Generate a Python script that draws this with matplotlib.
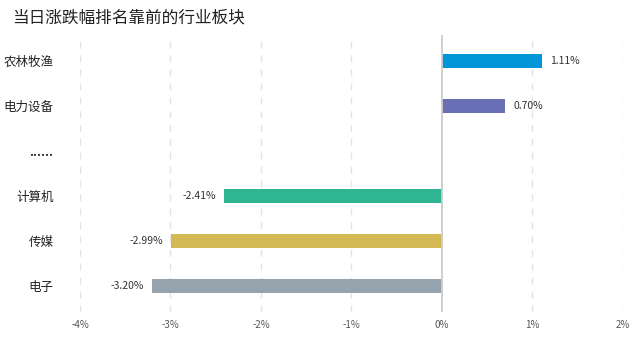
import numpy as np
import matplotlib.pyplot as plt

plt.rcParams['font.family'] = ['Noto Sans CJK SC', 'DejaVu Sans']

# data
sectors = ['农林牧渔', '电力设备', '......', '计算机', '传媒', '电子']
changes = [1.11, 0.70, np.nan, -2.41, -2.99, -3.20]
bar_colors = ['#0096d8', '#6a6fb5', '#ffffff', '#2fb593', '#d3b953', '#96a2ac']
xticks = [-4, -3, -2, -1, 0, 1, 2]

fig = plt.figure(figsize=(6.4, 3.46), dpi=100)
ax = fig.add_axes([0.125, 0.098, 0.848, 0.801])

y = np.arange(len(sectors))
vals = np.nan_to_num(changes)
ax.barh(y, vals, height=0.31, color=bar_colors, zorder=3)

for yi, v in zip(y, changes):
    if np.isnan(v):
        continue
    if v >= 0:
        ax.text(v + 0.09, yi, f'{v:.2f}%', va='center', ha='left', fontsize=7.5, color='#333333')
    else:
        ax.text(v - 0.09, yi, f'{v:.2f}%', va='center', ha='right', fontsize=7.5, color='#333333')

for xt in xticks:
    if xt == 0:
        ax.axvline(0, color='#cccccc', lw=1.3, zorder=4)
    else:
        ax.axvline(xt, color='#e3e3e3', lw=1, ls=(0, (5, 5)), zorder=1)

ax.set_xlim(-4, 2)
ax.set_ylim(5.57, -0.57)
ax.set_xticks(xticks)
ax.set_xticklabels([f'{t}%' for t in xticks], fontsize=7, color='#555555')
ax.set_yticks(y)
ax.set_yticklabels(sectors, fontsize=9, color='#222222')
ax.get_yticklabels()[2].set_fontweight('bold')
ax.tick_params(length=0)
ax.tick_params(axis='x', pad=6)
ax.tick_params(axis='y', pad=19)
for s in ax.spines.values():
    s.set_visible(False)

fig.text(0.019, 0.947, '当日涨跌幅排名靠前的行业板块', fontsize=12, color='#222222', va='center')

fig.savefig('out.png', dpi=100)
